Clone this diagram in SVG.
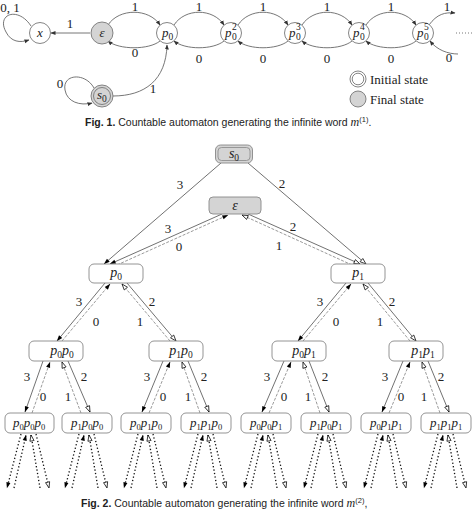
<svg xmlns="http://www.w3.org/2000/svg" width="474" height="513" viewBox="0 0 474 513">
<style>
.c{fill:#fff;stroke:#777;stroke-width:0.9}
.g{fill:#d4d4d4;stroke:#777;stroke-width:0.9}
.b{fill:#fff;stroke:#888;stroke-width:0.9}
.bg{fill:#d4d4d4;stroke:#888;stroke-width:0.9}
.t1{fill:none;stroke:#666;stroke-width:0.9}
.s{fill:none;stroke:#333;stroke-width:0.7}
.d{fill:none;stroke:#555;stroke-width:0.6;stroke-dasharray:3 1.5}
.dt{fill:none;stroke:#111;stroke-width:1.3;stroke-dasharray:1.3 2.2}
.m{font-family:"Liberation Serif",serif;font-style:italic;font-size:13px;fill:#222}
.mb{font-family:"Liberation Serif",serif;font-style:italic;font-size:14px;fill:#222;text-anchor:middle}
.m3{font-family:"Liberation Serif",serif;font-style:italic;font-size:13px;fill:#222;text-anchor:middle}
.sb{font-size:9.5px;font-style:normal}
.s3{font-size:8.5px;font-style:normal}
.lb{font-family:"Liberation Serif",serif;font-size:13px;fill:#222;text-anchor:middle}
.lg{font-family:"Liberation Serif",serif;font-size:13px;fill:#222}
.cap{font-family:"Liberation Sans",Arial,sans-serif;font-size:10.5px;fill:#222}
</style>
<defs>
<marker id="a1" viewBox="0 0 10 10" refX="9" refY="5" markerWidth="5" markerHeight="5" orient="auto" markerUnits="userSpaceOnUse"><path d="M0,1 L10,5 L0,9 z" fill="#333"/></marker>
<marker id="af" viewBox="0 0 10 10" refX="9.5" refY="5" markerWidth="7" markerHeight="6" orient="auto" markerUnits="userSpaceOnUse"><path d="M0,1.5 L10,5 L0,8.5 z" fill="#000"/></marker>
<marker id="ao" viewBox="0 0 12 10" refX="11" refY="5" markerWidth="7.5" markerHeight="6" orient="auto" markerUnits="userSpaceOnUse"><path d="M1,1.5 L11,5 L1,8.5 z" fill="#fff" stroke="#000" stroke-width="1.2"/></marker>
</defs>

<!-- ===== Figure 1 ===== -->
<g id="fig1-connectors">
<path class="t1" d="M31,26 C18,6 -4,14 6,32 C11,42 20,43 29,40" marker-end="url(#a1)"/>
<path class="t1" d="M90,33 L51,33" marker-end="url(#a1)"/>
<path class="t1" d="M94,88 C85,72 62,74 65,90 C67,102 80,106 92,103" marker-end="url(#a1)"/>
<path class="t1" d="M113,96 C145,96 166,80 167,45" marker-end="url(#a1)"/>
<path class="t1" d="M108,25 C119,8 149,8 160,25" marker-end="url(#a1)"/>
<path class="t1" d="M160,41 C149,50 119,50 108,41" marker-end="url(#a1)"/>
<path class="t1" d="M174,25 C185,8 213,8 224,25" marker-end="url(#a1)"/>
<path class="t1" d="M224,41 C213,50 185,50 174,41" marker-end="url(#a1)"/>
<path class="t1" d="M238,25 C249,8 277,8 288,25" marker-end="url(#a1)"/>
<path class="t1" d="M288,41 C277,50 249,50 238,41" marker-end="url(#a1)"/>
<path class="t1" d="M302,25 C313,8 341,8 352,25" marker-end="url(#a1)"/>
<path class="t1" d="M352,41 C341,50 313,50 302,41" marker-end="url(#a1)"/>
<path class="t1" d="M366,25 C377,8 405,8 416,25" marker-end="url(#a1)"/>
<path class="t1" d="M416,41 C405,50 377,50 366,41" marker-end="url(#a1)"/>
<path class="t1" d="M429,25 C437,14 445,12 455,13" marker-end="url(#a1)"/>
<path class="t1" d="M458,54 C448,54 437,50 430,41" marker-end="url(#a1)"/>
<path fill="none" stroke="#666" stroke-width="0.9" stroke-dasharray="1 2" d="M456,33 L474,33"/>
<text class="lb" x="10" y="12">0, 1</text>
<text class="lb" x="70" y="28">1</text>
<text class="lb" x="60" y="88">0</text>
<text class="lb" x="153" y="93">1</text>
<text class="lb" x="135" y="11">1</text><text class="lb" x="135" y="57">0</text>
<text class="lb" x="199" y="11">1</text><text class="lb" x="199" y="63">0</text>
<text class="lb" x="263" y="11">1</text><text class="lb" x="263" y="63">0</text>
<text class="lb" x="327" y="11">1</text><text class="lb" x="327" y="63">0</text>
<text class="lb" x="391" y="11">1</text><text class="lb" x="391" y="63">0</text>
<text class="lb" x="447" y="11">1</text><text class="lb" x="449" y="62">0</text>
</g>
<g id="f1-x"><circle class="c" cx="40" cy="33" r="10.5"/><text class="m" x="40" y="37" text-anchor="middle">x</text></g>
<g id="f1-eps"><circle class="g" cx="102" cy="33" r="11"/><text class="m" x="102" y="37" text-anchor="middle">ε</text></g>
<g id="f1-p0"><circle class="c" cx="167" cy="33" r="10.5"/><text class="m" x="162" y="37">p<tspan class="sb" dy="3">0</tspan></text></g>
<g id="f1-p02"><circle class="c" cx="231" cy="33" r="10.5"/><text class="m" x="225" y="37">p<tspan class="sb" x="232" y="40">0</tspan><tspan class="sb" x="232" y="30">2</tspan></text></g>
<g id="f1-p03"><circle class="c" cx="295" cy="33" r="10.5"/><text class="m" x="289" y="37">p<tspan class="sb" x="296" y="40">0</tspan><tspan class="sb" x="296" y="30">3</tspan></text></g>
<g id="f1-p04"><circle class="c" cx="359" cy="33" r="10.5"/><text class="m" x="353" y="37">p<tspan class="sb" x="360" y="40">0</tspan><tspan class="sb" x="360" y="30">4</tspan></text></g>
<g id="f1-p05"><circle class="c" cx="423" cy="33" r="10.5"/><text class="m" x="417" y="37">p<tspan class="sb" x="424" y="40">0</tspan><tspan class="sb" x="424" y="30">5</tspan></text></g>
<g id="f1-s0"><circle class="g" cx="102" cy="96" r="11"/><circle fill="none" stroke="#777" stroke-width="0.9" cx="102" cy="96" r="8.5"/><text class="m" x="97" y="99">s<tspan class="sb" dy="3">0</tspan></text></g>
<g id="legend">
<circle class="c" cx="358" cy="79" r="8"/><circle fill="none" stroke="#777" stroke-width="0.9" cx="358" cy="79" r="5.8"/>
<text class="lg" x="370" y="84">Initial state</text>
<circle class="g" cx="358" cy="99" r="8"/>
<text class="lg" x="370" y="104">Final state</text>
</g>
<text class="cap" x="85" y="126"><tspan font-weight="bold">Fig. 1.</tspan> Countable automaton generating the infinite word <tspan font-family="Liberation Serif, serif" font-style="italic" font-size="12">m</tspan><tspan font-size="7.5" dy="-4">(1)</tspan><tspan dy="4">.</tspan></text>

<!-- ===== Figure 2 ===== -->
<g id="connectors">
<path class="s" d="M221,163 L104,264" marker-end="url(#af)"/>
<path class="s" d="M248,163 L366,264" marker-end="url(#ao)"/>
<path class="s" d="M222,214 L110,264" marker-end="url(#af)"/>
<path class="d" d="M117,265 L228,215" marker-end="url(#af)"/>
<path class="s" d="M248,214 L360,264" marker-end="url(#ao)"/>
<path class="d" d="M352,265 L242,215" marker-end="url(#ao)"/>
<path class="s" d="M105,283 L57,341" marker-end="url(#af)"/>
<path class="d" d="M62,341 L110,284" marker-end="url(#af)"/>
<path class="d" d="M170,341 L122,284" marker-end="url(#ao)"/>
<path class="s" d="M127,283 L176,341" marker-end="url(#ao)"/>
<path class="s" d="M346,283 L298,341" marker-end="url(#af)"/>
<path class="d" d="M303,341 L351,284" marker-end="url(#af)"/>
<path class="d" d="M410,341 L363,284" marker-end="url(#ao)"/>
<path class="s" d="M368,283 L416,341" marker-end="url(#ao)"/>
<path class="s" d="M43,361 L25,412" marker-end="url(#af)"/>
<path class="d" d="M32,413 L50,362" marker-end="url(#af)"/>
<path class="d" d="M81,413 L62,362" marker-end="url(#ao)"/>
<path class="s" d="M68,361 L90,412" marker-end="url(#ao)"/>
<path class="s" d="M163,361 L142,412" marker-end="url(#af)"/>
<path class="d" d="M149,413 L170,362" marker-end="url(#af)"/>
<path class="d" d="M200,413 L182,362" marker-end="url(#ao)"/>
<path class="s" d="M188,361 L209,412" marker-end="url(#ao)"/>
<path class="s" d="M284,361 L262,412" marker-end="url(#af)"/>
<path class="d" d="M269,413 L291,362" marker-end="url(#af)"/>
<path class="d" d="M320,413 L303,362" marker-end="url(#ao)"/>
<path class="s" d="M309,361 L329,412" marker-end="url(#ao)"/>
<path class="s" d="M403,361 L382,412" marker-end="url(#af)"/>
<path class="d" d="M389,413 L410,362" marker-end="url(#af)"/>
<path class="d" d="M440,413 L422,362" marker-end="url(#ao)"/>
<path class="s" d="M428,361 L449,412" marker-end="url(#ao)"/>
<g id="dots">
<path class="dt" d="M21,434 L7,488" marker-end="url(#af)"/><path class="dt" d="M14,488 L26,435" marker-end="url(#af)"/><path class="dt" d="M40,488 L31,435" marker-end="url(#ao)"/><path class="dt" d="M36,434 L49,488" marker-end="url(#ao)"/>
<path class="dt" d="M79,434 L65,488" marker-end="url(#af)"/><path class="dt" d="M72,488 L84,435" marker-end="url(#af)"/><path class="dt" d="M98,488 L89,435" marker-end="url(#ao)"/><path class="dt" d="M94,434 L107,488" marker-end="url(#ao)"/>
<path class="dt" d="M138,434 L124,488" marker-end="url(#af)"/><path class="dt" d="M131,488 L143,435" marker-end="url(#af)"/><path class="dt" d="M157,488 L148,435" marker-end="url(#ao)"/><path class="dt" d="M153,434 L166,488" marker-end="url(#ao)"/>
<path class="dt" d="M198,434 L184,488" marker-end="url(#af)"/><path class="dt" d="M191,488 L203,435" marker-end="url(#af)"/><path class="dt" d="M217,488 L208,435" marker-end="url(#ao)"/><path class="dt" d="M213,434 L226,488" marker-end="url(#ao)"/>
<path class="dt" d="M258,434 L244,488" marker-end="url(#af)"/><path class="dt" d="M251,488 L263,435" marker-end="url(#af)"/><path class="dt" d="M277,488 L268,435" marker-end="url(#ao)"/><path class="dt" d="M273,434 L286,488" marker-end="url(#ao)"/>
<path class="dt" d="M318,434 L304,488" marker-end="url(#af)"/><path class="dt" d="M311,488 L323,435" marker-end="url(#af)"/><path class="dt" d="M337,488 L328,435" marker-end="url(#ao)"/><path class="dt" d="M333,434 L346,488" marker-end="url(#ao)"/>
<path class="dt" d="M378,434 L364,488" marker-end="url(#af)"/><path class="dt" d="M371,488 L383,435" marker-end="url(#af)"/><path class="dt" d="M397,488 L388,435" marker-end="url(#ao)"/><path class="dt" d="M393,434 L406,488" marker-end="url(#ao)"/>
<path class="dt" d="M438,434 L424,488" marker-end="url(#af)"/><path class="dt" d="M431,488 L443,435" marker-end="url(#af)"/><path class="dt" d="M457,488 L448,435" marker-end="url(#ao)"/><path class="dt" d="M453,434 L466,488" marker-end="url(#ao)"/>
</g>
<text class="lb" x="180" y="189">3</text><text class="lb" x="282" y="188">2</text>
<text class="lb" x="168" y="233">3</text><text class="lb" x="179" y="251">0</text>
<text class="lb" x="293" y="231">2</text><text class="lb" x="279" y="250">1</text>
<text class="lb" x="79" y="306">3</text><text class="lb" x="96" y="326">0</text><text class="lb" x="140" y="326">1</text><text class="lb" x="152" y="306">2</text>
<text class="lb" x="320" y="306">3</text><text class="lb" x="336" y="326">0</text><text class="lb" x="380" y="326">1</text><text class="lb" x="392" y="306">2</text>
<text class="lb" x="27" y="381">3</text><text class="lb" x="43" y="401">0</text><text class="lb" x="68" y="401">1</text><text class="lb" x="84" y="381">2</text>
<text class="lb" x="147" y="381">3</text><text class="lb" x="163" y="401">0</text><text class="lb" x="188" y="401">1</text><text class="lb" x="204" y="381">2</text>
<text class="lb" x="267" y="381">3</text><text class="lb" x="284" y="401">0</text><text class="lb" x="308" y="401">1</text><text class="lb" x="325" y="381">2</text>
<text class="lb" x="385" y="381">3</text><text class="lb" x="401" y="401">0</text><text class="lb" x="424" y="401">1</text><text class="lb" x="441" y="381">2</text>
</g>

<g id="s0"><rect class="bg" x="215.5" y="145" width="37" height="18" rx="5"/><rect fill="none" stroke="#888" stroke-width="0.8" x="218" y="147.5" width="32" height="13" rx="3.5"/><text class="mb" x="234" y="158">s<tspan class="sb" dy="3">0</tspan></text></g>
<g id="eps"><rect class="bg" x="209" y="197" width="52" height="17" rx="4"/><text class="mb" x="235" y="210">ε</text></g>
<g id="p0"><rect class="b" x="89" y="264" width="54" height="19" rx="5"/><text class="mb" x="116" y="277">p<tspan class="sb" dy="3">0</tspan></text></g>
<g id="p1"><rect class="b" x="331" y="264" width="54" height="19" rx="5"/><text class="mb" x="358" y="277">p<tspan class="sb" dy="3">1</tspan></text></g>
<g id="p0p0"><rect class="b" x="29" y="341" width="54" height="20" rx="5"/><text class="mb" x="62" y="355">p<tspan class="sb" dy="3">0</tspan><tspan dy="-3">p</tspan><tspan class="sb" dy="3">0</tspan></text></g>
<g id="p1p0"><rect class="b" x="149" y="341" width="54" height="20" rx="5"/><text class="mb" x="181" y="355">p<tspan class="sb" dy="3">1</tspan><tspan dy="-3">p</tspan><tspan class="sb" dy="3">0</tspan></text></g>
<g id="p0p1"><rect class="b" x="272" y="341" width="54" height="20" rx="5"/><text class="mb" x="304" y="355">p<tspan class="sb" dy="3">0</tspan><tspan dy="-3">p</tspan><tspan class="sb" dy="3">1</tspan></text></g>
<g id="p1p1"><rect class="b" x="389" y="341" width="54" height="20" rx="5"/><text class="mb" x="423" y="355">p<tspan class="sb" dy="3">1</tspan><tspan dy="-3">p</tspan><tspan class="sb" dy="3">1</tspan></text></g>
<g id="p0p0p0"><rect class="b" x="5" y="413" width="49" height="20" rx="5"/><text class="m3" x="29" y="427">p<tspan class="s3" dy="3">0</tspan><tspan dy="-3">p</tspan><tspan class="s3" dy="3">0</tspan><tspan dy="-3">p</tspan><tspan class="s3" dy="3">0</tspan></text></g>
<g id="p1p0p0"><rect class="b" x="62" y="413" width="50" height="20" rx="5"/><text class="m3" x="87" y="427">p<tspan class="s3" dy="3">1</tspan><tspan dy="-3">p</tspan><tspan class="s3" dy="3">0</tspan><tspan dy="-3">p</tspan><tspan class="s3" dy="3">0</tspan></text></g>
<g id="p0p1p0"><rect class="b" x="121" y="413" width="50" height="20" rx="5"/><text class="m3" x="146" y="427">p<tspan class="s3" dy="3">0</tspan><tspan dy="-3">p</tspan><tspan class="s3" dy="3">1</tspan><tspan dy="-3">p</tspan><tspan class="s3" dy="3">0</tspan></text></g>
<g id="p1p1p0"><rect class="b" x="181" y="413" width="50" height="20" rx="5"/><text class="m3" x="206" y="427">p<tspan class="s3" dy="3">1</tspan><tspan dy="-3">p</tspan><tspan class="s3" dy="3">1</tspan><tspan dy="-3">p</tspan><tspan class="s3" dy="3">0</tspan></text></g>
<g id="p0p0p1"><rect class="b" x="241" y="413" width="50" height="20" rx="5"/><text class="m3" x="266" y="427">p<tspan class="s3" dy="3">0</tspan><tspan dy="-3">p</tspan><tspan class="s3" dy="3">0</tspan><tspan dy="-3">p</tspan><tspan class="s3" dy="3">1</tspan></text></g>
<g id="p1p0p1"><rect class="b" x="301" y="413" width="50" height="20" rx="5"/><text class="m3" x="326" y="427">p<tspan class="s3" dy="3">1</tspan><tspan dy="-3">p</tspan><tspan class="s3" dy="3">0</tspan><tspan dy="-3">p</tspan><tspan class="s3" dy="3">1</tspan></text></g>
<g id="p0p1p1"><rect class="b" x="361" y="413" width="50" height="20" rx="5"/><text class="m3" x="386" y="427">p<tspan class="s3" dy="3">0</tspan><tspan dy="-3">p</tspan><tspan class="s3" dy="3">1</tspan><tspan dy="-3">p</tspan><tspan class="s3" dy="3">1</tspan></text></g>
<g id="p1p1p1"><rect class="b" x="421" y="413" width="50" height="20" rx="5"/><text class="m3" x="446" y="427">p<tspan class="s3" dy="3">1</tspan><tspan dy="-3">p</tspan><tspan class="s3" dy="3">1</tspan><tspan dy="-3">p</tspan><tspan class="s3" dy="3">1</tspan></text></g>

<text class="cap" x="81" y="507"><tspan font-weight="bold">Fig. 2.</tspan> Countable automaton generating the infinite word <tspan font-family="Liberation Serif, serif" font-style="italic" font-size="12">m</tspan><tspan font-size="7.5" dy="-4">(2)</tspan><tspan dy="4">,</tspan></text>
</svg>
